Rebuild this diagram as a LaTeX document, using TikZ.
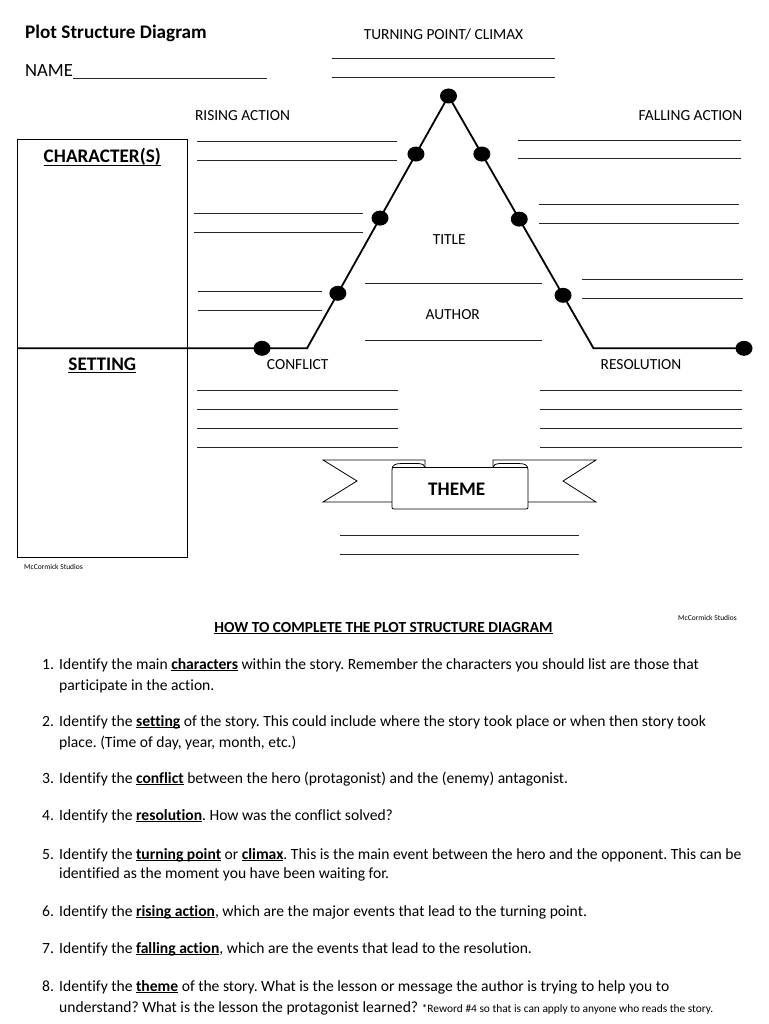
\documentclass[tikz,border=0pt]{standalone}
\usepackage{fontspec}
\setmainfont{Carlito}[Ligatures=NoCommon]
\usetikzlibrary{shapes.geometric,calc}
\frenchspacing
\newsavebox{\ulbox}
\newcommand{\myul}[1]{\sbox{\ulbox}{#1}\leavevmode\rlap{\vrule width \wd\ulbox height -0.09em depth 0.15em}\usebox{\ulbox}}
\newcommand{\bu}[1]{\myul{\textbf{#1}}}
\begin{document}
\begin{tikzpicture}[x=1pt,y=-1pt,
  blank/.style={line width=0.9pt,draw=black!85},
  plotline/.style={line width=1.8pt,line join=miter},
  dot/.style={ellipse,fill=black,minimum width=17pt,minimum height=15pt,inner sep=0pt},
  lbl/.style={font=\fontsize{15.4}{18}\selectfont,inner sep=0pt,anchor=base},
  head/.style={font=\fontsize{19.2}{22}\selectfont\bfseries,inner sep=0pt},
  body/.style={font=\fontsize{15.6}{18}\selectfont,inner sep=0pt,anchor=base west},
  tiny/.style={font=\fontsize{7.5}{9}\selectfont,inner sep=0pt,anchor=base west},
  ribbon/.style={line width=0.8pt,line join=miter}]
\useasboundingbox (0,0) rectangle (768,1024);

% header
\node[head,anchor=base west] (ttl) at (25,38.5) {Plot Structure Diagram};
\node[font=\fontsize{18.6}{22}\selectfont,inner sep=0pt,anchor=base west] (name) at (25,76.7) {NAME};
\coordinate (nameend) at (267,78.5);
\draw[blank] (name.base east |- nameend) -- (nameend);

\node[lbl] (tp) at (443.5,40) {TURNING POINT/ CLIMAX};
\draw[blank] (332,58) -- (555,58);
\draw[blank] (332,77) -- (555,77);

\node[lbl] (ra) at (242.5,121) {RISING ACTION};
\node[lbl] (fa) at (690.5,121) {FALLING ACTION};

% rising action blanks
\draw[blank] (197,141) -- (397,141);
\draw[blank] (197,160) -- (397,160);
\draw[blank] (194,213) -- (363,213);
\draw[blank] (194,232) -- (363,232);
\draw[blank] (198,291.5) -- (321.5,291.5);
\draw[blank] (198,310.5) -- (321.5,310.5);

% falling action blanks
\draw[blank] (518,140) -- (741,140);
\draw[blank] (518,158.5) -- (741,158.5);
\draw[blank] (539,204) -- (739,204);
\draw[blank] (539,223) -- (739,223);
\draw[blank] (582,279.5) -- (743,279.5);
\draw[blank] (582,298.5) -- (743,298.5);

% title / author
\node[lbl] (title) at (449.3,244.3) {TITLE};
\draw[blank] (365,283) -- (541.5,283);
\node[lbl] (author) at (452.7,319.3) {AUTHOR};
\draw[blank] (365,340) -- (541.5,340);

% character box
\draw[line width=1pt] (17.3,140) rectangle (187.7,557.3);
\node[head,anchor=base] (chars) at (102.3,163) {\myul{CHARACTER(S)}};
\node[head,anchor=base] (setting) at (102.3,370.5) {\myul{SETTING}};

% plot line
\coordinate (start) at (17.3,348.3);
\coordinate (c1) at (307,348.3);
\coordinate (apex) at (448.5,96);
\coordinate (c2) at (593.5,348.3);
\coordinate (end) at (744,348.3);
\draw[plotline] (start) -- (c1) -- (apex) -- (c2) -- (end);
\node[dot] (dconf) at (262,348.3) {};
\node[dot] (dapex) at (apex) {};
\node[dot] (dend) at (end) {};
\node[dot] (r1) at ($(c1)!0.218!(apex)$) {};
\node[dot] (r2) at ($(c1)!0.516!(apex)$) {};
\node[dot] (r3) at ($(c1)!0.770!(apex)$) {};
\node[dot] (f1) at ($(apex)!0.230!(c2)$) {};
\node[dot] (f2) at ($(apex)!0.488!(c2)$) {};
\node[dot] (f3) at ($(apex)!0.790!(c2)$) {};

\node[lbl] (conflict) at (297.7,369.3) {CONFLICT};
\node[lbl] (resolution) at (641,369.3) {RESOLUTION};

\foreach \yy in {390,409.3,428.3,447.3} {
  \draw[blank] (197,\yy) -- (398,\yy);
  \draw[blank] (540,\yy) -- (741.5,\yy);
}

% theme banner
\draw[ribbon] (425,467) -- (425,460) -- (323,460) -- (357,481) -- (323,502) -- (392,502);
\draw[ribbon] (493,467) -- (493,460) -- (596,460) -- (563,481) -- (596,502) -- (528,502);
\draw[ribbon] (392,505) -- (392,470) .. controls (392,465) and (395,463.5) .. (402,463.5) -- (416,463.5) .. controls (423,463.5) and (425,465) .. (425,467.5);
\draw[ribbon] (528,505) -- (528,470) .. controls (528,465) and (525,463.5) .. (518,463.5) -- (502,463.5) .. controls (495,463.5) and (493,465) .. (493,467.5);
\draw[ribbon] (392,467.5) -- (528,467.5);
\draw[ribbon] (392,505) .. controls (392,509) .. (396,509) -- (524,509) .. controls (528,509) .. (528,505);
\node[head,anchor=base] (theme) at (456.7,495.5) {THEME};
\draw[blank] (340,535) -- (579,535);
\draw[blank] (340,554) -- (579,554);

\node[tiny] (mc1) at (24,569.5) {McCormick Studios};
\node[tiny] (mc2) at (678,620.5) {McCormick Studios};

% instructions
\node[font=\fontsize{15.4}{18}\selectfont\bfseries,inner sep=0pt,anchor=base] (how) at (383.5,632) {\myul{HOW TO COMPLETE THE PLOT STRUCTURE DIAGRAM}};

\node[body] (n1) at (42,669) {1.};
\node[body] (t1a) at (59,669) {Identify the main \bu{characters} within the story. Remember the characters you should list are those that};
\node[body] (t1b) at (59,690) {participate in the action.};
\node[body] (n2) at (42,726) {2.};
\node[body] (t2a) at (59,726) {Identify the \bu{setting} of the story. This could include where the story took place or when then story took};
\node[body] (t2b) at (59,747) {place. (Time of day, year, month, etc.)};
\node[body] (n3) at (42,783) {3.};
\node[body] (t3) at (59,783) {Identify the \bu{conflict} between the hero (protagonist) and the (enemy) antagonist.};
\node[body] (n4) at (42,820) {4.};
\node[body] (t4) at (59,820) {Identify the \bu{resolution}. How was the conflict solved?};
\node[body] (n5) at (42,859) {5.};
\node[body] (t5a) at (59,859) {Identify the \bu{turning point} or \bu{climax}. This is the main event between the hero and the opponent. This can be};
\node[body] (t5b) at (59,878) {identified as the moment you have been waiting for.};
\node[body] (n6) at (42,916) {6.};
\node[body] (t6) at (59,916) {Identify the \bu{rising action}, which are the major events that lead to the turning point.};
\node[body] (n7) at (42,953) {7.};
\node[body] (t7) at (59,953) {Identify the \bu{falling action}, which are the events that lead to the resolution.};
\node[body] (n8) at (42,991) {8.};
\node[body] (t8a) at (59,991) {Identify the \bu{theme} of the story. What is the lesson or message the author is trying to help you to};
\node[body] (t8b) at (59,1012) {understand? What is the lesson the protagonist learned? {\fontsize{11.4}{12}\selectfont *Reword \#4 so that is can apply to anyone who reads the story.}};
\end{tikzpicture}
\end{document}
